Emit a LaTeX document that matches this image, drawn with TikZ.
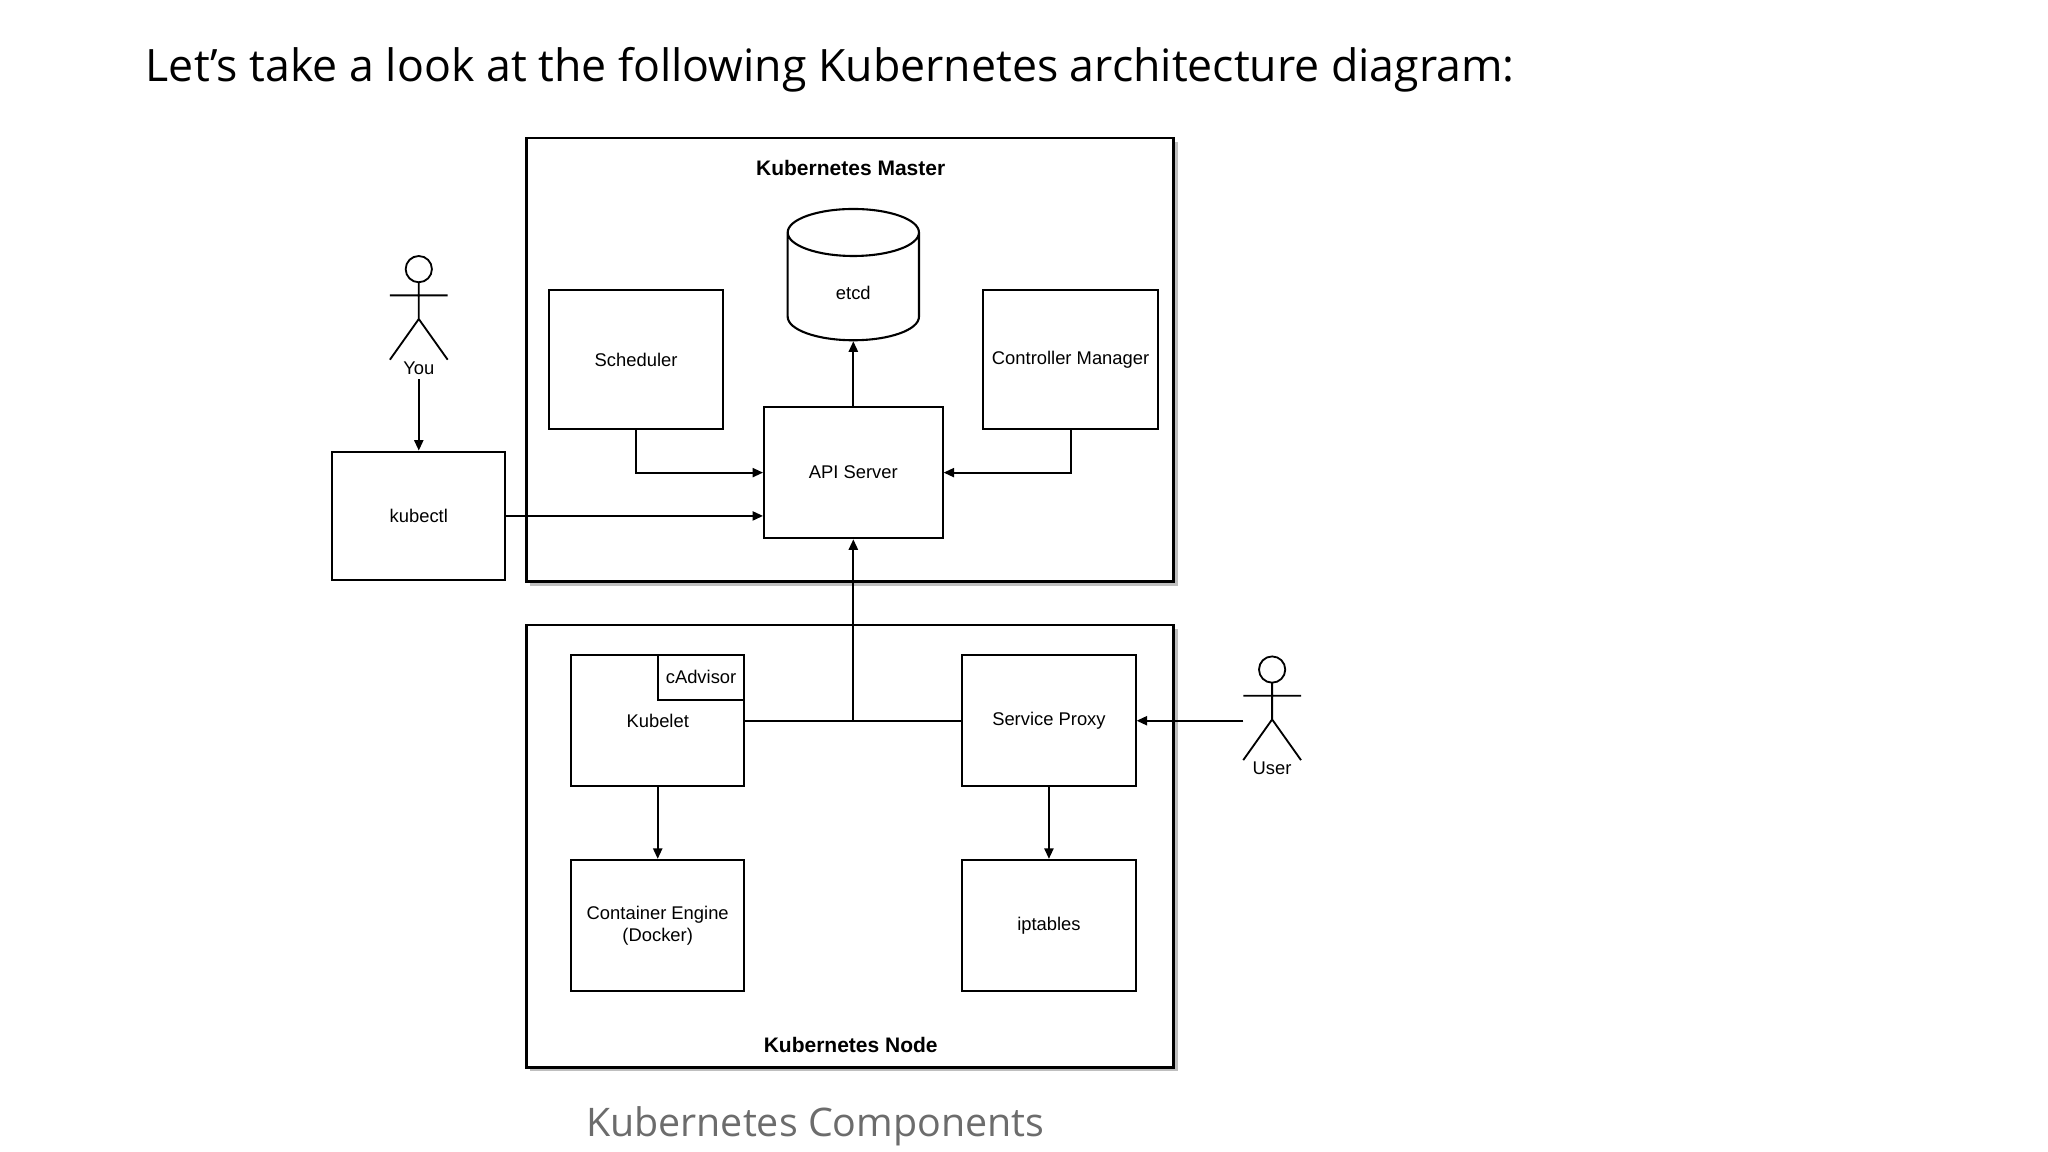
\documentclass[tikz,border=0pt]{standalone}
\usepackage{fontspec}
\setmainfont{Liberation Sans}
\newfontfamily\osans{Open Sans}
\usetikzlibrary{shapes.geometric,arrows.meta}
\begin{document}
\begin{tikzpicture}[x=0.5pt,y=-0.5pt,
  box/.style={draw,line width=0.8pt,fill=white},
  lbl/.style={font=\fontsize{7}{8.5}\selectfont,align=center},
  arr/.style={-{Triangle[length=4pt,width=3.5pt]},line width=0.7pt},
  ln/.style={line width=0.7pt}]
\useasboundingbox (0,0) rectangle (1560,877.5);
\node[anchor=west,font=\osans\fontsize{17}{20}\selectfont] (title) at (104,53) {Let’s take a look at the following Kubernetes architecture diagram:};
% frames
\fill[gray!50] (404,108) rectangle (897,446);
\draw[line width=0.9pt,fill=white] (401,105) rectangle (894,443);
\fill[gray!50] (404,479) rectangle (897,816);
\draw[line width=0.9pt,fill=white] (401,476) rectangle (894,813);
\node[lbl,font=\bfseries\fontsize{8}{9}\selectfont] (mt) at (648,128) {Kubernetes Master};
\node[lbl,font=\bfseries\fontsize{8}{9}\selectfont] (nt) at (648,796) {Kubernetes Node};
% master
\node[cylinder,shape border rotate=90,draw,line width=0.8pt,minimum width=50pt,minimum height=50pt,aspect=0.9,lbl] (etcd) at (650,223) {etcd};
\node[box,lbl,minimum width=66.5pt,minimum height=53pt] (sch) at (484.5,274) {Scheduler};
\node[box,lbl,minimum width=66.5pt,minimum height=53pt,inner sep=1pt] (cm) at (815.5,274) {Controller Manager};
\node[box,lbl,minimum width=68pt,minimum height=50pt] (api) at (650,360) {API Server};
\node[box,lbl,minimum width=66pt,minimum height=49pt] (kc) at (319,393) {kubectl};
% node
\node[box,lbl,minimum width=66pt,minimum height=50pt] (kub) at (501,549) {Kubelet};
\node[box,lbl,minimum width=33pt,minimum height=17pt,anchor=north east,inner sep=1pt] (cad) at (kub.north east) {cAdvisor};
\node[box,lbl,minimum width=66pt,minimum height=50pt] (sp) at (799,549) {Service Proxy};
\node[box,lbl,minimum width=66pt,minimum height=50pt] (ce) at (501,705) {Container Engine\\(Docker)};
\node[box,lbl,minimum width=66pt,minimum height=50pt] (ipt) at (799,705) {iptables};
% actors
\foreach \n/\cx/\cy/\t in {you/319/205/You,user/969/510/User}{
  \draw[ln] (\cx,\cy) circle (10);
  \draw[ln] (\cx,\cy+10) -- (\cx,\cy+38) (\cx-22,\cy+20) -- (\cx+22,\cy+20)
    (\cx-22,\cy+69) -- (\cx,\cy+38) -- (\cx+22,\cy+69);
  \node[lbl,anchor=north,inner sep=0pt] (\n) at (\cx,\cy+70) {\t};
}
% connectors
\draw[arr] (you.south) ++(0,3) -- (kc.north);
\draw[arr] (kc.east) -- (api.west |- kc.east);
\draw[arr] (sch.south) |- (api.west);
\draw[arr] (cm.south) |- (api.east);
\draw[arr] (api.north) -- (etcd.south);
\draw[ln] (kub.east) -- (sp.west);
\coordinate (j) at (650,549);
\draw[arr] (j) -- (api.south);
\draw[arr] (947,549) -- (sp.east);
\draw[arr] (kub.south) -- (ce.north);
\draw[arr] (sp.south) -- (ipt.north);
\node[font=\osans\fontsize{15}{18}\selectfont,text=gray!85!black] (cap) at (621,858) {Kubernetes Components};
\end{tikzpicture}
\end{document}
